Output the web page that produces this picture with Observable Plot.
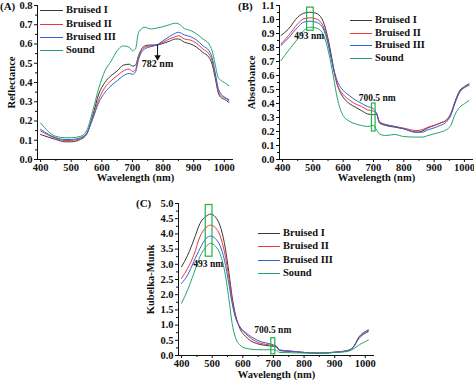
<!DOCTYPE html>
<html><head><meta charset="utf-8">
<script src="https://cdn.jsdelivr.net/npm/d3@7"></script>
<script src="https://cdn.jsdelivr.net/npm/@observablehq/plot@0.6"></script>
<style>
body{margin:0;background:#fff;}
#root{position:relative;width:474px;height:381px;overflow:hidden;font-family:"Liberation Serif","Times New Roman",serif;font-weight:bold;color:#111;}
.panel{position:absolute;}
.lbl{position:absolute;font-size:11px;line-height:12px;white-space:nowrap;}
.lg-line{position:absolute;height:0;border-top:1.2px solid;}
.lg-text{position:absolute;font-size:10.5px;line-height:12px;white-space:nowrap;}
</style></head>
<body><div id="root"></div>
<script>
// ---------- data ----------
const seriesNames = ["Bruised I", "Bruised II", "Bruised III", "Sound"];
const seriesColors = ["#3a3a3a", "#e8383d", "#2f62d8", "#23a46c"];
const xTicks = [400, 500, 600, 700, 800, 900, 1000];

// (A) Reflectance
const wlA = [400,450,480,500,530,550,570,590,610,630,650,670,690,700,710,720,740,760,780,800,820,840,850,870,890,910,930,950,960,970,980,990,1000,1015];
const reflBruisedI   = [0.13,0.104,0.092,0.092,0.104,0.13,0.226,0.34,0.40,0.435,0.46,0.49,0.495,0.485,0.49,0.54,0.59,0.595,0.595,0.603,0.614,0.626,0.626,0.609,0.60,0.583,0.556,0.53,0.496,0.426,0.348,0.32,0.313,0.296];
const reflBruisedII  = [0.148,0.11,0.099,0.099,0.11,0.134,0.217,0.313,0.374,0.409,0.435,0.46,0.47,0.457,0.468,0.53,0.583,0.59,0.595,0.609,0.626,0.638,0.643,0.626,0.62,0.603,0.574,0.548,0.513,0.443,0.357,0.33,0.322,0.304];
const reflBruisedIII = [0.157,0.113,0.104,0.104,0.113,0.134,0.209,0.296,0.348,0.383,0.409,0.435,0.447,0.443,0.455,0.52,0.574,0.586,0.595,0.617,0.638,0.656,0.661,0.647,0.638,0.62,0.591,0.565,0.53,0.452,0.37,0.339,0.325,0.311];
const reflSound      = [0.19,0.12,0.113,0.113,0.12,0.148,0.25,0.37,0.46,0.51,0.565,0.59,0.583,0.565,0.575,0.66,0.687,0.678,0.683,0.69,0.70,0.708,0.705,0.68,0.67,0.652,0.626,0.60,0.565,0.496,0.426,0.41,0.40,0.383];
const yTicksA = [0,0.1,0.2,0.3,0.4,0.5,0.6,0.7,0.8];

// (B) Absorbance
const wlB = [395,420,450,470,490,510,530,545,560,570,580,590,600,620,640,660,680,700,710,720,740,770,800,840,860,880,900,920,940,955,970,985,1000,1015];
const absBruisedI   = [0.886,0.933,1.017,1.045,1.052,1.045,1.005,0.91,0.755,0.636,0.54,0.481,0.445,0.40,0.374,0.35,0.326,0.32,0.325,0.26,0.243,0.231,0.219,0.195,0.202,0.226,0.243,0.26,0.279,0.326,0.421,0.493,0.521,0.54];
const absBruisedII  = [0.826,0.886,0.969,1.005,1.012,1.005,0.969,0.886,0.731,0.624,0.54,0.493,0.464,0.426,0.398,0.379,0.355,0.345,0.33,0.265,0.25,0.236,0.224,0.207,0.212,0.231,0.243,0.26,0.283,0.326,0.41,0.481,0.512,0.529];
const absBruisedIII = [0.814,0.869,0.945,0.981,0.988,0.981,0.95,0.869,0.731,0.636,0.564,0.521,0.493,0.457,0.426,0.402,0.379,0.362,0.33,0.27,0.25,0.236,0.219,0.195,0.195,0.212,0.226,0.243,0.267,0.314,0.41,0.488,0.517,0.536];
const absSound      = [0.707,0.78,0.862,0.921,0.945,0.94,0.91,0.826,0.683,0.564,0.445,0.362,0.314,0.274,0.255,0.243,0.236,0.243,0.212,0.183,0.171,0.179,0.164,0.16,0.16,0.171,0.183,0.195,0.212,0.243,0.326,0.374,0.398,0.421];
const yTicksB = [0,0.1,0.2,0.3,0.4,0.5,0.6,0.7,0.8,0.9,1.0,1.1];

// (C) Kubelka-Munk
const wlC = [400,420,440,460,480,495,510,525,540,555,565,575,590,610,650,700,710,720,760,800,850,900,940,960,980,1000,1010];
const kmBruisedI   = [2.92,3.30,3.80,4.34,4.58,4.65,4.56,4.29,3.69,2.70,1.94,1.39,0.90,0.62,0.38,0.30,0.28,0.16,0.13,0.10,0.08,0.11,0.16,0.27,0.62,0.79,0.84];
const kmBruisedII  = [2.54,2.87,3.30,3.91,4.21,4.29,4.21,3.96,3.41,2.54,1.83,1.33,0.95,0.71,0.43,0.32,0.29,0.18,0.14,0.10,0.08,0.11,0.16,0.27,0.60,0.75,0.81];
const kmBruisedIII = [2.37,2.65,3.09,3.52,3.85,3.93,3.85,3.63,3.14,2.32,1.72,1.28,0.95,0.75,0.49,0.35,0.31,0.18,0.14,0.10,0.07,0.10,0.15,0.26,0.57,0.73,0.78];
const kmSound      = [1.72,2.16,2.70,3.25,3.58,3.69,3.60,3.36,2.81,1.83,1.06,0.62,0.35,0.24,0.19,0.19,0.17,0.10,0.09,0.08,0.08,0.10,0.13,0.21,0.35,0.46,0.51];
const yTicksC = [0,0.5,1,1.5,2,2.5,3,3.5,4,4.5,5];

// annotations (data coordinates)
const crossWl = 782;          // arrow in (A)
const peakWl = 493;           // box in (B),(C)
const redEdgeWl = 700.5;      // box in (B),(C)

// ---------- helpers ----------
function rowsFor(wl, arrs) {
  return arrs.flatMap((arr, i) => wl.map((w, j) => ({wl: w, v: arr[j], s: seriesNames[i]})));
}
function minor(ticks) {
  const out = [];
  for (let i = 0; i < ticks.length - 1; i++) out.push((ticks[i] + ticks[i+1]) / 2);
  return out;
}
const green = "#23b04a";

function panel(o) {
  const data = rowsFor(o.wl, o.series);
  return Plot.plot({
    width: o.width, height: o.height,
    marginLeft: o.ml, marginRight: o.mr, marginTop: o.mt, marginBottom: o.mb,
    style: {fontFamily: "'Liberation Serif','Times New Roman',serif", fontWeight: "bold", fontSize: "10.5px", background: "transparent", overflow: "visible", color: "#111"},
    x: {domain: [390, 1030]},
    y: {domain: o.yDomain},
    color: {domain: seriesNames, range: seriesColors},
    marks: [
      Plot.axisX({ticks: xTicks, tickSize: 3, tickPadding: 1, tickFormat: d => String(d), label: "Wavelength (nm)", labelAnchor: "center", labelArrow: "none", labelOffset: o.xLabelOffset}),
      Plot.axisX({ticks: minor(xTicks), tickSize: 2, text: null, label: null}),
      Plot.axisY({ticks: o.yTicks, tickSize: 3, tickPadding: 2, tickFormat: d3.format(".1f"), label: o.yLabel, labelAnchor: "center", labelArrow: "none", labelOffset: o.yLabelOffset}),
      Plot.axisY({ticks: minor(o.yTicks), tickSize: 2, text: null, label: null}),
      Plot.ruleX([390], {y1: o.yDomain[0], y2: o.yDomain[1], stroke: "#111"}),
      Plot.ruleY([o.yDomain[0]], {stroke: "#111"}),
      Plot.line(data, {x: "wl", y: "v", stroke: "s", z: "s", strokeWidth: 1, curve: "monotone-x"}),
      ...(o.extra || [])
    ]
  });
}

function boxMarks(b) {
  return [
    Plot.rect([b], {x1: "x1", x2: "x2", y1: "y1", y2: "y2", fill: "none", stroke: green, strokeWidth: 1.2}),
    Plot.text([b], {x: "tx", y: "ty", text: "label", fontSize: 9.5, fontWeight: "bold", fill: "#111"})
  ];
}

const root = document.getElementById("root");
function place(el, left, top) {
  el.classList.add("panel");
  el.style.left = left + "px"; el.style.top = top + "px";
  root.appendChild(el);
}

// (A)
const pA = panel({
  wl: wlA, series: [reflBruisedI, reflBruisedII, reflBruisedIII, reflSound],
  width: 237, height: 190, ml: 37, mr: 4, mt: 5, mb: 31,
  yDomain: [0, 0.8], yTicks: yTicksA, yLabel: "Reflectance",
  xLabelOffset: 21, yLabelOffset: 30,
  extra: [
    Plot.ruleX([crossWl], {y1: 0.595, y2: 0.535, stroke: "#111", strokeWidth: 1}),
    Plot.dot([crossWl], {x: d => d, y: 0.532, symbol: "triangle", r: 2.4, rotate: 180, fill: "#111", stroke: "none"}),
    Plot.text([crossWl], {x: d => d, y: 0.495, text: d => d + " nm", fontSize: 10, fontWeight: "bold", fill: "#111"})
  ]
});
place(pA, 0, 0);

// (B)
const pB = panel({
  wl: wlB, series: [absBruisedI, absBruisedII, absBruisedIII, absSound],
  width: 237, height: 190, ml: 42, mr: 1, mt: 5, mb: 31,
  yDomain: [0, 1.1], yTicks: yTicksB, yLabel: "Absorbance",
  xLabelOffset: 21, yLabelOffset: 32,
  extra: [
    ...boxMarks({x1: 481, x2: 503, y1: 0.92, y2: 1.085, tx: 488, ty: 0.885, label: peakWl + " nm"}),
    ...boxMarks({x1: 695, x2: 707, y1: 0.20, y2: 0.40, tx: 712, ty: 0.44, label: redEdgeWl + " nm"})
  ]
});
place(pB, 237, 0);

// (C)
const pC = panel({
  wl: wlC, series: [kmBruisedI, kmBruisedII, kmBruisedIII, kmSound],
  width: 280, height: 191, ml: 68, mr: 16, mt: 13, mb: 26,
  yDomain: [0, 5], yTicks: yTicksC, yLabel: "Kubelka-Munk",
  xLabelOffset: 22, yLabelOffset: 32,
  extra: [
    ...boxMarks({x1: 479, x2: 501, y1: 3.25, y2: 4.95, tx: 487, ty: 3.0, label: peakWl + " nm"}),
    ...boxMarks({x1: 693, x2: 706, y1: 0.04, y2: 0.57, tx: 698, ty: 0.84, label: redEdgeWl + " nm"})
  ]
});
place(pC, 110, 190);

// panel letters
function label(text, left, top) {
  const s = document.createElement("div");
  s.className = "lbl"; s.textContent = text;
  s.style.left = left + "px"; s.style.top = top + "px";
  root.appendChild(s);
}
label("(A)", 0, 0);
label("(B)", 238, 0);
label("(C)", 136, 197);

// legends
function legend(x1, x2, xt, ys) {
  seriesNames.forEach((n, i) => {
    const l = document.createElement("div");
    l.className = "lg-line";
    l.style.left = x1 + "px"; l.style.width = (x2 - x1) + "px";
    l.style.top = (ys[i]) + "px"; l.style.borderColor = seriesColors[i];
    root.appendChild(l);
    const t = document.createElement("div");
    t.className = "lg-text"; t.textContent = n;
    t.style.left = xt + "px"; t.style.top = (ys[i] - 6) + "px";
    root.appendChild(t);
  });
}
legend(40, 63, 66, [10, 23.5, 36.5, 49.5]);
legend(350, 372, 375, [20, 32.5, 45, 57.5]);
legend(258, 280, 283, [233, 246, 259.5, 272.5]);
</script>
</body></html>
